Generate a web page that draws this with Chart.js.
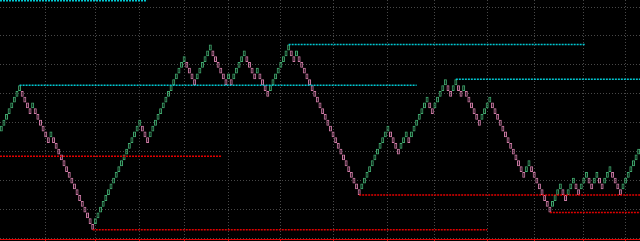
<html><head><meta charset="UTF-8"><meta name="viewport" content="width=device-width, initial-scale=1.0">
<title>Renko</title>
<style>
html, body {
  margin: 0;
  padding: 0;
  background: #000;
}
#wrap {
  width: 640px;
  height: 241px;
}
</style>
<script src="https://cdn.jsdelivr.net/npm/chart.js"></script>
</head>
<body>
<div id="wrap"><canvas id="renko"></canvas></div>
<script>
// brick bottoms, in box units (each brick spans [n, n+1])
const bricks = [
  18, 19, 20, 21, 22, 23, 24, 25, 24, 23, 22, 21, 22, 21, 20, 19, 18, 17, 16, 17,
  16, 15, 14, 13, 12, 11, 10, 9, 8, 7, 6, 5, 4, 3, 2, 1, 2, 3, 4, 5,
  6, 7, 8, 9, 10, 11, 12, 13, 14, 15, 16, 17, 18, 19, 18, 17, 16, 17, 18, 19,
  20, 21, 22, 23, 24, 25, 26, 27, 28, 29, 30, 29, 28, 27, 26, 27, 28, 29, 30, 31,
  32, 31, 30, 29, 28, 27, 26, 27, 26, 27, 28, 29, 30, 31, 30, 29, 28, 27, 28, 27,
  26, 25, 24, 25, 26, 27, 28, 29, 30, 31, 32, 31, 30, 31, 30, 29, 28, 27, 26, 25,
  24, 23, 22, 21, 20, 19, 18, 17, 16, 15, 14, 13, 12, 11, 10, 9, 8, 7, 8, 9,
  10, 11, 12, 13, 14, 15, 16, 17, 18, 17, 16, 15, 14, 15, 16, 17, 16, 17, 18, 19,
  20, 21, 22, 23, 22, 21, 22, 23, 24, 25, 26, 25, 24, 25, 26, 25, 24, 25, 24, 23,
  22, 21, 20, 19, 20, 21, 22, 23, 22, 21, 20, 19, 18, 17, 16, 15, 14, 13, 12, 11,
  10, 11, 12, 11, 10, 9, 8, 7, 6, 5, 4, 5, 6, 7, 8, 7, 6, 7, 8, 9,
  8, 7, 8, 9, 10, 9, 8, 9, 10, 9, 8, 9, 10, 11, 10, 9, 8, 7, 8, 9,
  10, 11, 12, 13, 14
];

// vertical grid (brick index) and horizontal grid (box level)
const gridIdx = [17, 36, 53, 70, 87, 107, 127, 148, 166, 186, 204, 223, 239];
const levelTicks = [-0.5, 4.5, 9.5, 14.5, 19.5, 24.5, 29.5, 34.5, 39.5];

// resistance (cyan) and support (red) lines
const resLevel = [40.6, 26, 33, 27];
const resFrom = [-0.5, 7, 110, 174];
const resTo = [55.8, 159, 223.5, 244.5];
const supLevel = [13.7, 1, 7, 4];
const supFrom = [-0.5, 35, 137, 210];
const supTo = [84.5, 186, 244.5, 244.5];

const UP = 'rgb(64,168,110)';
const DOWN = 'rgb(205,122,165)';
const UP_FILL = 'rgba(64,168,110,0.18)';
const DOWN_FILL = 'rgba(205,122,165,0.18)';

const isUp = i => i === 0 || bricks[i] > bricks[i - 1];

function levelLine(level, from, to, color) {
  return {
    type: 'line',
    data: [{ x: from, y: level }, { x: to, y: level }],
    borderColor: color,
    borderWidth: 1.5,
    borderDash: [2, 1],
    pointRadius: 0,
    fill: false,
    order: 0
  };
}

const lines = [];
resLevel.forEach((lv, k) => lines.push(levelLine(lv, resFrom[k], resTo[k], 'rgb(0,200,210)')));
supLevel.forEach((lv, k) => lines.push(levelLine(lv, supFrom[k], supTo[k], 'rgb(225,0,0)')));

new Chart(document.getElementById('renko'), {
  type: 'bar',
  data: {
    labels: bricks.map((_, i) => i),
    datasets: [{
      data: bricks.map(n => [n, n + 1]),
      borderColor: ctx => isUp(ctx.dataIndex) ? UP : DOWN,
      backgroundColor: ctx => isUp(ctx.dataIndex) ? UP_FILL : DOWN_FILL,
      borderWidth: 1,
      borderSkipped: false,
      barPercentage: 1.15,
      categoryPercentage: 1,
      order: 1
    }].concat(lines)
  },
  options: {
    responsive: true,
    maintainAspectRatio: false,
    animation: false,
    layout: { padding: 0 },
    plugins: {
      legend: { display: false },
      tooltip: { enabled: false }
    },
    scales: {
      x: {
        type: 'linear',
        min: -0.5,
        max: 244.5,
        offset: false,
        afterBuildTicks: axis => { axis.ticks = gridIdx.map(v => ({ value: v })); },
        ticks: { display: false },
        grid: {
          offset: false,
          color: '#484848',
          drawTicks: true,
          tickLength: 1.5,
          tickColor: 'rgb(225,0,0)'
        },
        border: { display: true, color: 'rgb(230,0,0)', width: 1, dash: [1, 2] }
      },
      y: {
        min: -0.673,
        max: 40.71,
        afterBuildTicks: axis => { axis.ticks = levelTicks.map(v => ({ value: v })); },
        ticks: { display: false },
        grid: { color: '#484848', drawTicks: false },
        border: { display: false, dash: [1, 2] }
      }
    }
  }
});
</script>
</body></html>
